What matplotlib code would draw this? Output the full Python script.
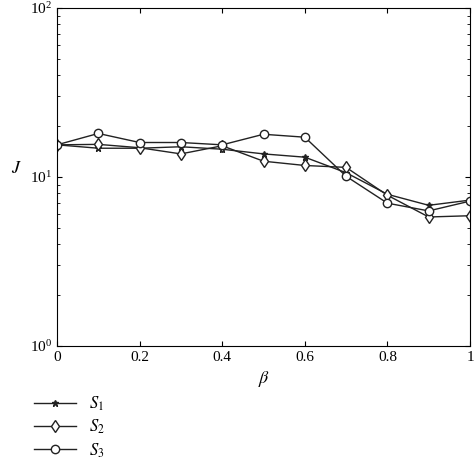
import matplotlib
matplotlib.use("Agg")
import matplotlib.pyplot as plt
from matplotlib.lines import Line2D

plt.rcParams['font.family'] = 'Liberation Serif'
plt.rcParams['mathtext.fontset'] = 'stix'

beta = [0, 0.1, 0.2, 0.3, 0.4, 0.5, 0.6, 0.7, 0.8, 0.9, 1.0]
s1 = [15.5, 14.8, 14.8, 15.1, 14.6, 13.7, 13.1, 10.6, 7.9, 6.8, 7.3]
s2 = [15.5, 15.6, 14.9, 13.7, 15.3, 12.4, 11.7, 11.4, 7.8, 5.8, 5.9]
s3 = [15.5, 18.1, 16.0, 16.0, 15.5, 17.9, 17.2, 10.1, 7.0, 6.3, 7.2]

fig = plt.figure(figsize=(4.74, 4.70), dpi=100)
ax = fig.add_axes([57/474, 1 - 346/470, 413/474, 338/470])

kw = dict(color='#222222', lw=1.0, mfc='white', mec='#222222')
ax.plot(beta, s1, marker='*', ms=5, **{**kw, 'mfc': '#222222'})
ax.plot(beta, s2, marker='d', ms=6, **kw)
ax.plot(beta, s3, marker='o', ms=6, **kw)

ax.set_yscale('log')
ax.set_ylim(1, 100)
ax.set_xlim(0, 1)
ax.set_xticks([0, 0.2, 0.4, 0.6, 0.8, 1])
ax.set_xticklabels(['0', '0.2', '0.4', '0.6', '0.8', '1'])
ax.tick_params(direction='in', which='both', top=True, right=True, labelsize=11)
ax.set_xlabel(r'$\beta$', fontsize=13)
ax.set_ylabel(r'$J$', fontsize=13, rotation=0, labelpad=10)

handles = [Line2D([], [], marker='*', ms=5, **{**kw, 'mfc': '#222222'}),
           Line2D([], [], marker='d', ms=6, **kw),
           Line2D([], [], marker='o', ms=6, **kw)]
fig.legend(handles, [r'$S_1$', r'$S_2$', r'$S_3$'], loc='lower left',
           bbox_to_anchor=(0.04, -0.01), frameon=False, fontsize=12,
           handlelength=2.5, labelspacing=0.3)

fig.savefig('out.png', dpi=100)
